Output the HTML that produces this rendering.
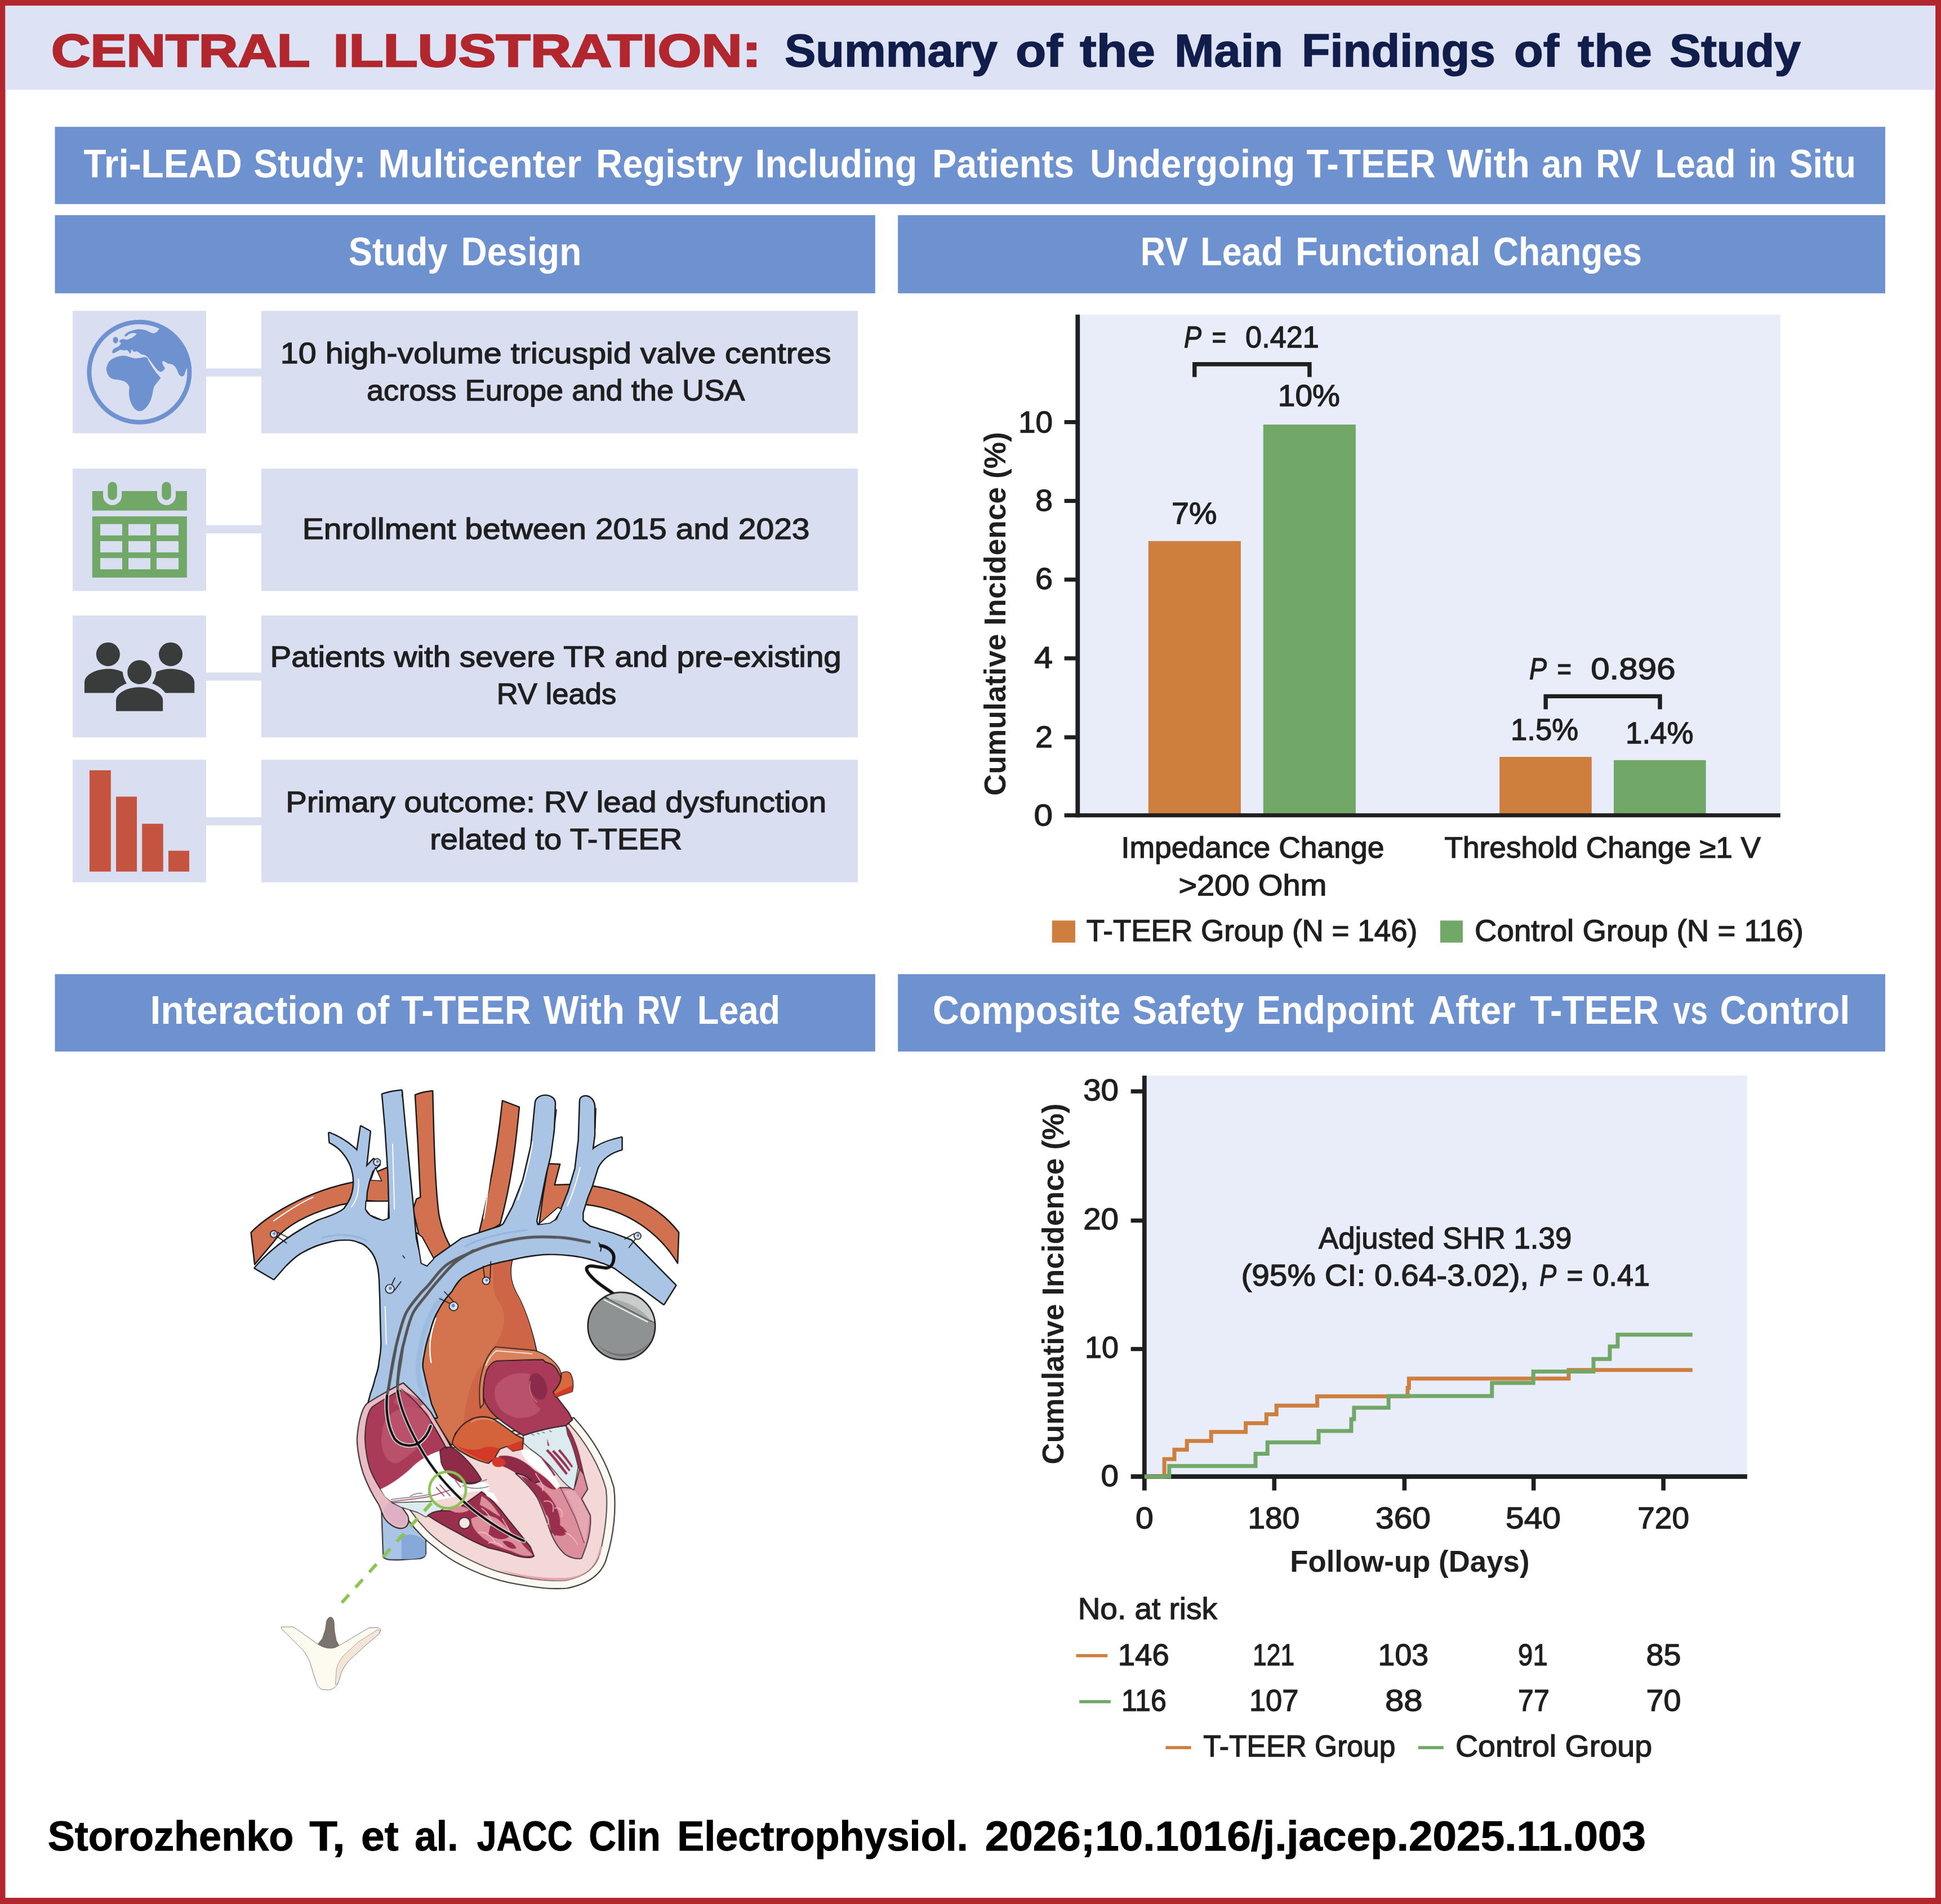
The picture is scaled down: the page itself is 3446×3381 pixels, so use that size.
<!DOCTYPE html>
<html><head><meta charset="utf-8"><title>Central Illustration</title>
<style>
html,body{margin:0;padding:0;background:#fff;}
body{width:3446px;height:3381px;overflow:hidden;}
svg{display:block;}
text{font-family:"Liberation Sans",sans-serif;white-space:pre;}
</style></head><body>
<svg width="3446" height="3381" viewBox="0 0 3446 3381">
<rect x="0.0" y="0.0" width="3446.0" height="3381.0" fill="#B2272D" />
<rect x="9.5" y="10.0" width="3426.5" height="3360.0" fill="#FFFFFF" />
<rect x="9.5" y="10.0" width="3425.5" height="149.5" fill="#DDE2F4" />
<text x="91.0" y="117.7" textLength="459.5" lengthAdjust="spacingAndGlyphs" font-size="81" font-weight="bold" font-style="normal" fill="#B2272D" text-anchor="start"  stroke="#B2272D" stroke-width="2.5">CENTRAL</text>
<text x="591.6" y="117.7" textLength="759.4" lengthAdjust="spacingAndGlyphs" font-size="81" font-weight="bold" font-style="normal" fill="#B2272D" text-anchor="start"  stroke="#B2272D" stroke-width="2.5">ILLUSTRATION:</text>
<text x="1393.0" y="117.7" textLength="378.0" lengthAdjust="spacingAndGlyphs" font-size="82" font-weight="bold" font-style="normal" fill="#111E4B" text-anchor="start"  stroke="#111E4B" stroke-width="1.5">Summary</text>
<text x="1803.0" y="117.7" textLength="84.0" lengthAdjust="spacingAndGlyphs" font-size="82" font-weight="bold" font-style="normal" fill="#111E4B" text-anchor="start"  stroke="#111E4B" stroke-width="1.5">of</text>
<text x="1917.0" y="117.7" textLength="134.0" lengthAdjust="spacingAndGlyphs" font-size="82" font-weight="bold" font-style="normal" fill="#111E4B" text-anchor="start"  stroke="#111E4B" stroke-width="1.5">the</text>
<text x="2085.0" y="117.7" textLength="193.0" lengthAdjust="spacingAndGlyphs" font-size="82" font-weight="bold" font-style="normal" fill="#111E4B" text-anchor="start"  stroke="#111E4B" stroke-width="1.5">Main</text>
<text x="2311.0" y="117.7" textLength="344.0" lengthAdjust="spacingAndGlyphs" font-size="82" font-weight="bold" font-style="normal" fill="#111E4B" text-anchor="start"  stroke="#111E4B" stroke-width="1.5">Findings</text>
<text x="2688.0" y="117.7" textLength="80.0" lengthAdjust="spacingAndGlyphs" font-size="82" font-weight="bold" font-style="normal" fill="#111E4B" text-anchor="start"  stroke="#111E4B" stroke-width="1.5">of</text>
<text x="2801.0" y="117.7" textLength="132.0" lengthAdjust="spacingAndGlyphs" font-size="82" font-weight="bold" font-style="normal" fill="#111E4B" text-anchor="start"  stroke="#111E4B" stroke-width="1.5">the</text>
<text x="2964.0" y="117.7" textLength="233.0" lengthAdjust="spacingAndGlyphs" font-size="82" font-weight="bold" font-style="normal" fill="#111E4B" text-anchor="start"  stroke="#111E4B" stroke-width="1.5">Study</text>
<rect x="97.5" y="225.2" width="3249.5" height="137.2" fill="#6E91CF" />
<rect x="97.5" y="382.1" width="1456.3" height="138.7" fill="#6E91CF" />
<rect x="1594.1" y="382.1" width="1752.9" height="138.7" fill="#6E91CF" />
<rect x="97.5" y="1729.8" width="1456.3" height="137.5" fill="#6E91CF" />
<rect x="1594.1" y="1729.8" width="1752.9" height="137.5" fill="#6E91CF" />
<text x="148.2" y="315.0" textLength="281.6" lengthAdjust="spacingAndGlyphs" font-size="70" font-weight="bold" font-style="normal" fill="#fff" text-anchor="start"  >Tri-LEAD</text>
<text x="450.2" y="315.0" textLength="199.5" lengthAdjust="spacingAndGlyphs" font-size="70" font-weight="bold" font-style="normal" fill="#fff" text-anchor="start"  >Study:</text>
<text x="671.3" y="315.0" textLength="361.0" lengthAdjust="spacingAndGlyphs" font-size="70" font-weight="bold" font-style="normal" fill="#fff" text-anchor="start"  >Multicenter</text>
<text x="1058.1" y="315.0" textLength="260.7" lengthAdjust="spacingAndGlyphs" font-size="70" font-weight="bold" font-style="normal" fill="#fff" text-anchor="start"  >Registry</text>
<text x="1340.4" y="315.0" textLength="287.9" lengthAdjust="spacingAndGlyphs" font-size="70" font-weight="bold" font-style="normal" fill="#fff" text-anchor="start"  >Including</text>
<text x="1654.9" y="315.0" textLength="252.2" lengthAdjust="spacingAndGlyphs" font-size="70" font-weight="bold" font-style="normal" fill="#fff" text-anchor="start"  >Patients</text>
<text x="1935.1" y="315.0" textLength="364.4" lengthAdjust="spacingAndGlyphs" font-size="70" font-weight="bold" font-style="normal" fill="#fff" text-anchor="start"  >Undergoing</text>
<text x="2319.4" y="315.0" textLength="229.5" lengthAdjust="spacingAndGlyphs" font-size="70" font-weight="bold" font-style="normal" fill="#fff" text-anchor="start"  >T-TEER</text>
<text x="2568.7" y="315.0" textLength="147.4" lengthAdjust="spacingAndGlyphs" font-size="70" font-weight="bold" font-style="normal" fill="#fff" text-anchor="start"  >With</text>
<text x="2737.0" y="315.0" textLength="74.2" lengthAdjust="spacingAndGlyphs" font-size="70" font-weight="bold" font-style="normal" fill="#fff" text-anchor="start"  >an</text>
<text x="2833.5" y="315.0" textLength="80.5" lengthAdjust="spacingAndGlyphs" font-size="70" font-weight="bold" font-style="normal" fill="#fff" text-anchor="start"  >RV</text>
<text x="2938.4" y="315.0" textLength="143.1" lengthAdjust="spacingAndGlyphs" font-size="70" font-weight="bold" font-style="normal" fill="#fff" text-anchor="start"  >Lead</text>
<text x="3104.6" y="315.0" textLength="49.1" lengthAdjust="spacingAndGlyphs" font-size="70" font-weight="bold" font-style="normal" fill="#fff" text-anchor="start"  >in</text>
<text x="3176.8" y="315.0" textLength="118.2" lengthAdjust="spacingAndGlyphs" font-size="70" font-weight="bold" font-style="normal" fill="#fff" text-anchor="start"  >Situ</text>
<text x="618.7" y="470.5" textLength="175.8" lengthAdjust="spacingAndGlyphs" font-size="70" font-weight="bold" font-style="normal" fill="#fff" text-anchor="start"  >Study</text>
<text x="818.5" y="470.5" textLength="213.9" lengthAdjust="spacingAndGlyphs" font-size="70" font-weight="bold" font-style="normal" fill="#fff" text-anchor="start"  >Design</text>
<text x="2024.8" y="470.5" textLength="84.4" lengthAdjust="spacingAndGlyphs" font-size="70" font-weight="bold" font-style="normal" fill="#fff" text-anchor="start"  >RV</text>
<text x="2131.3" y="470.5" textLength="146.5" lengthAdjust="spacingAndGlyphs" font-size="70" font-weight="bold" font-style="normal" fill="#fff" text-anchor="start"  >Lead</text>
<text x="2300.0" y="470.5" textLength="328.5" lengthAdjust="spacingAndGlyphs" font-size="70" font-weight="bold" font-style="normal" fill="#fff" text-anchor="start"  >Functional</text>
<text x="2650.7" y="470.5" textLength="264.5" lengthAdjust="spacingAndGlyphs" font-size="70" font-weight="bold" font-style="normal" fill="#fff" text-anchor="start"  >Changes</text>
<text x="266.5" y="1817.6" textLength="345.1" lengthAdjust="spacingAndGlyphs" font-size="70" font-weight="bold" font-style="normal" fill="#fff" text-anchor="start"  >Interaction</text>
<text x="631.8" y="1817.6" textLength="59.5" lengthAdjust="spacingAndGlyphs" font-size="70" font-weight="bold" font-style="normal" fill="#fff" text-anchor="start"  >of</text>
<text x="712.3" y="1817.6" textLength="230.4" lengthAdjust="spacingAndGlyphs" font-size="70" font-weight="bold" font-style="normal" fill="#fff" text-anchor="start"  >T-TEER</text>
<text x="964.6" y="1817.6" textLength="144.5" lengthAdjust="spacingAndGlyphs" font-size="70" font-weight="bold" font-style="normal" fill="#fff" text-anchor="start"  >With</text>
<text x="1131.0" y="1817.6" textLength="78.8" lengthAdjust="spacingAndGlyphs" font-size="70" font-weight="bold" font-style="normal" fill="#fff" text-anchor="start"  >RV</text>
<text x="1237.8" y="1817.6" textLength="147.2" lengthAdjust="spacingAndGlyphs" font-size="70" font-weight="bold" font-style="normal" fill="#fff" text-anchor="start"  >Lead</text>
<text x="1655.9" y="1817.6" textLength="333.6" lengthAdjust="spacingAndGlyphs" font-size="70" font-weight="bold" font-style="normal" fill="#fff" text-anchor="start"  >Composite</text>
<text x="2010.2" y="1817.6" textLength="198.4" lengthAdjust="spacingAndGlyphs" font-size="70" font-weight="bold" font-style="normal" fill="#fff" text-anchor="start"  >Safety</text>
<text x="2231.1" y="1817.6" textLength="279.5" lengthAdjust="spacingAndGlyphs" font-size="70" font-weight="bold" font-style="normal" fill="#fff" text-anchor="start"  >Endpoint</text>
<text x="2535.9" y="1817.6" textLength="155.1" lengthAdjust="spacingAndGlyphs" font-size="70" font-weight="bold" font-style="normal" fill="#fff" text-anchor="start"  >After</text>
<text x="2716.2" y="1817.6" textLength="229.0" lengthAdjust="spacingAndGlyphs" font-size="70" font-weight="bold" font-style="normal" fill="#fff" text-anchor="start"  >T-TEER</text>
<text x="2970.5" y="1817.6" textLength="61.3" lengthAdjust="spacingAndGlyphs" font-size="70" font-weight="bold" font-style="normal" fill="#fff" text-anchor="start"  >vs</text>
<text x="3053.4" y="1817.6" textLength="230.8" lengthAdjust="spacingAndGlyphs" font-size="70" font-weight="bold" font-style="normal" fill="#fff" text-anchor="start"  >Control</text>
<rect x="128.9" y="552.0" width="237.1" height="217.4" fill="#D9DFF1" />
<rect x="463.9" y="552.0" width="1059.0" height="217.4" fill="#D9DFF1" />
<rect x="365.0" y="654.2" width="100.0" height="14.4" fill="#D9DFF1" />
<rect x="128.9" y="832.1" width="237.1" height="217.3" fill="#D9DFF1" />
<rect x="463.9" y="832.1" width="1059.0" height="217.3" fill="#D9DFF1" />
<rect x="365.0" y="932.6" width="100.0" height="14.4" fill="#D9DFF1" />
<rect x="128.9" y="1093.0" width="237.1" height="216.3" fill="#D9DFF1" />
<rect x="463.9" y="1093.0" width="1059.0" height="216.3" fill="#D9DFF1" />
<rect x="365.0" y="1194.2" width="100.0" height="14.4" fill="#D9DFF1" />
<rect x="128.9" y="1349.1" width="237.1" height="217.7" fill="#D9DFF1" />
<rect x="463.9" y="1349.1" width="1059.0" height="217.7" fill="#D9DFF1" />
<rect x="365.0" y="1451.2" width="100.0" height="14.4" fill="#D9DFF1" />
<text x="497.8" y="644.6" textLength="977.7" lengthAdjust="spacingAndGlyphs" font-size="52" font-weight="normal" font-style="normal" fill="#1F1F1F" text-anchor="start" stroke="#1F1F1F" stroke-width="1.3" >10 high-volume tricuspid valve centres</text>
<text x="650.9" y="711.3" textLength="671.6" lengthAdjust="spacingAndGlyphs" font-size="52" font-weight="normal" font-style="normal" fill="#1F1F1F" text-anchor="start" stroke="#1F1F1F" stroke-width="1.3" >across Europe and the USA</text>
<text x="536.8" y="957.2" textLength="900.8" lengthAdjust="spacingAndGlyphs" font-size="52" font-weight="normal" font-style="normal" fill="#1F1F1F" text-anchor="start" stroke="#1F1F1F" stroke-width="1.3" >Enrollment between 2015 and 2023</text>
<text x="479.5" y="1183.5" textLength="1014.3" lengthAdjust="spacingAndGlyphs" font-size="52" font-weight="normal" font-style="normal" fill="#1F1F1F" text-anchor="start" stroke="#1F1F1F" stroke-width="1.3" >Patients with severe TR and pre-existing</text>
<text x="881.8" y="1250.2" textLength="212.5" lengthAdjust="spacingAndGlyphs" font-size="52" font-weight="normal" font-style="normal" fill="#1F1F1F" text-anchor="start" stroke="#1F1F1F" stroke-width="1.3" >RV leads</text>
<text x="507.3" y="1441.7" textLength="959.8" lengthAdjust="spacingAndGlyphs" font-size="52" font-weight="normal" font-style="normal" fill="#1F1F1F" text-anchor="start" stroke="#1F1F1F" stroke-width="1.3" >Primary outcome: RV lead dysfunction</text>
<text x="763.2" y="1508.4" textLength="448.0" lengthAdjust="spacingAndGlyphs" font-size="52" font-weight="normal" font-style="normal" fill="#1F1F1F" text-anchor="start" stroke="#1F1F1F" stroke-width="1.3" >related to T-TEER</text>
<!-- globe -->
<g>
<circle cx="247.4" cy="660.7" r="89" fill="none" stroke="#6E91CF" stroke-width="8"/>
<clipPath id="gclip"><circle cx="247.4" cy="660.7" r="87"/></clipPath>
<g clip-path="url(#gclip)"><g transform="translate(100 530) scale(0.28881)" fill="#6E91CF">
<path d="M318,398 C330,374 362,358 402,352 C432,348 452,364 482,368 C512,372 540,352 560,366 C568,388 585,414 600,436 C612,454 626,470 642,488 C626,512 606,528 598,550 C592,582 588,616 570,646 C556,670 536,692 512,693 C490,693 470,670 458,640 C448,612 442,580 450,546 C440,520 420,508 396,503 C370,498 346,500 330,486 C314,470 304,440 308,424 Z"/>
<path d="M345,338 C340,318 352,306 372,300 C384,296 392,286 398,274 C384,268 384,256 404,250 C418,246 426,256 440,252 C458,246 478,236 494,218 C478,206 452,214 438,226 C430,236 418,236 420,226 C430,208 462,196 500,190 C536,186 560,200 586,212 C606,218 624,208 628,190 C700,160 820,250 830,330 L812,418 C800,428 794,444 790,462 C786,478 772,482 762,476 C752,468 748,450 738,432 C730,416 716,404 696,402 C680,400 668,386 656,384 C646,392 654,408 666,424 C672,436 652,450 640,452 C626,446 610,428 598,410 C588,396 578,384 566,366 C556,352 540,346 524,344 C512,336 500,322 486,326 C478,334 470,322 462,312 C458,326 462,340 452,338 C444,326 438,314 426,318 C414,324 400,312 388,318 C374,326 360,336 345,338 Z"/>
<ellipse cx="364" cy="256" rx="16" ry="20"/>
</g></g>
</g>
<!-- calendar -->
<g fill="#72A867">
<rect x="163.8" y="872" width="168.1" height="34.6"/>
<rect x="163.8" y="917" width="168.1" height="108.6"/>
<g fill="#D9DFF1">
<path d="M183.1,868 V880.4 a16.5,16.5 0 0 0 33,0 V868 Z"/>
<path d="M279,868 V880.4 a16.5,16.5 0 0 0 33,0 V868 Z"/>
<rect x="178" y="930.6" width="39" height="20.2"/><rect x="228" y="930.6" width="39" height="20.2"/><rect x="278" y="930.6" width="39" height="20.2"/>
<rect x="178" y="960.9" width="39" height="20"/><rect x="228" y="960.9" width="39" height="20"/><rect x="278" y="960.9" width="39" height="20"/>
<rect x="178" y="990.9" width="39" height="20"/><rect x="228" y="990.9" width="39" height="20"/><rect x="278" y="990.9" width="39" height="20"/>
</g>
<rect x="191.4" y="855.8" width="16.4" height="32.2" rx="8.2"/>
<rect x="287.3" y="855.8" width="16.4" height="32.2" rx="8.2"/>
</g>
<!-- people -->
<g transform="translate(100 1070) scale(0.28881)" fill="#3A3C3B">
<circle cx="318" cy="318" r="73"/><circle cx="703" cy="318" r="73"/>
<path d="M173,556 V492 C173,440 250,408 318,408 C350,408 385,415 408,427 C410,452 420,480 433,497 C400,510 370,530 352,556 Z"/>
<path d="M849,556 V492 C849,440 772,408 704,408 C672,408 637,415 614,427 C612,452 602,480 589,497 C622,510 652,530 670,556 Z"/>
<circle cx="511" cy="428" r="74"/>
<path d="M367,667 V602 C367,560 430,520 511,520 C592,520 655,560 655,602 V667 Z"/>
</g>
<!-- bars -->
<g fill="#C4543F">
<rect x="158.9" y="1367.8" width="37.9" height="179.9"/>
<rect x="206" y="1414.6" width="37" height="133.1"/>
<rect x="252.2" y="1462.8" width="37.5" height="84.9"/>
<rect x="299" y="1510.7" width="37" height="37"/>
</g>

<rect x="1913.0" y="558.7" width="1247.8" height="889.3" fill="#E9EDF9" />
<rect x="2038.8" y="960.8" width="164.1" height="485.2" fill="#CE7F3E" />
<rect x="2242.8" y="753.9" width="164.1" height="692.1" fill="#72A867" />
<rect x="2662.2" y="1344.0" width="163.6" height="102.0" fill="#CE7F3E" />
<rect x="2865.0" y="1349.8" width="163.6" height="96.2" fill="#72A867" />
<rect x="1909.4" y="558.7" width="7.8" height="892.7" fill="#1F1F1F" />
<rect x="1889.6" y="1444.2" width="1271.2" height="7.2" fill="#1F1F1F" />
<rect x="1889.6" y="746.0" width="21.4" height="7.2" fill="#1F1F1F" />
<rect x="1889.6" y="885.9" width="21.4" height="7.2" fill="#1F1F1F" />
<rect x="1889.6" y="1025.6" width="21.4" height="7.2" fill="#1F1F1F" />
<rect x="1889.6" y="1165.4" width="21.4" height="7.2" fill="#1F1F1F" />
<rect x="1889.6" y="1305.6" width="21.4" height="7.2" fill="#1F1F1F" />
<text x="1808.0" y="767.6" textLength="61.0" lengthAdjust="spacingAndGlyphs" font-size="53" font-weight="normal" font-style="normal" fill="#1F1F1F" text-anchor="start" stroke="#1F1F1F" stroke-width="1.3" >10</text>
<text x="1838.0" y="906.5" textLength="31.0" lengthAdjust="spacingAndGlyphs" font-size="53" font-weight="normal" font-style="normal" fill="#1F1F1F" text-anchor="start" stroke="#1F1F1F" stroke-width="1.3" >8</text>
<text x="1838.0" y="1046.4" textLength="31.0" lengthAdjust="spacingAndGlyphs" font-size="53" font-weight="normal" font-style="normal" fill="#1F1F1F" text-anchor="start" stroke="#1F1F1F" stroke-width="1.3" >6</text>
<text x="1836.0" y="1186.3" textLength="33.0" lengthAdjust="spacingAndGlyphs" font-size="53" font-weight="normal" font-style="normal" fill="#1F1F1F" text-anchor="start" stroke="#1F1F1F" stroke-width="1.3" >4</text>
<text x="1838.0" y="1326.5" textLength="31.0" lengthAdjust="spacingAndGlyphs" font-size="53" font-weight="normal" font-style="normal" fill="#1F1F1F" text-anchor="start" stroke="#1F1F1F" stroke-width="1.3" >2</text>
<text x="1835.5" y="1466.0" textLength="33.5" lengthAdjust="spacingAndGlyphs" font-size="53" font-weight="normal" font-style="normal" fill="#1F1F1F" text-anchor="start" stroke="#1F1F1F" stroke-width="1.3" >0</text>
<text x="2101.9" y="616.7"  font-size="53" font-weight="normal" font-style="italic" fill="#1F1F1F" text-anchor="start" stroke="#1F1F1F" stroke-width="1.3" textLength="31" lengthAdjust="spacingAndGlyphs">P</text>
<text x="2151.4" y="616.7" textLength="25.5" lengthAdjust="spacingAndGlyphs" font-size="53" font-weight="normal" font-style="normal" fill="#1F1F1F" text-anchor="start" stroke="#1F1F1F" stroke-width="1.3" >=</text>
<text x="2211.1" y="616.7" textLength="130.7" lengthAdjust="spacingAndGlyphs" font-size="53" font-weight="normal" font-style="normal" fill="#1F1F1F" text-anchor="start" stroke="#1F1F1F" stroke-width="1.3" >0.421</text>
<text x="2715.0" y="1206.3"  font-size="53" font-weight="normal" font-style="italic" fill="#1F1F1F" text-anchor="start" stroke="#1F1F1F" stroke-width="1.3" textLength="31" lengthAdjust="spacingAndGlyphs">P</text>
<text x="2764.5" y="1206.3" textLength="25.5" lengthAdjust="spacingAndGlyphs" font-size="53" font-weight="normal" font-style="normal" fill="#1F1F1F" text-anchor="start" stroke="#1F1F1F" stroke-width="1.3" >=</text>
<text x="2824.2" y="1206.3" textLength="150.4" lengthAdjust="spacingAndGlyphs" font-size="53" font-weight="normal" font-style="normal" fill="#1F1F1F" text-anchor="start" stroke="#1F1F1F" stroke-width="1.3" >0.896</text>
<path d="M2120.8 669.4V646.7H2324.9V669.4" fill="none" stroke="#1F1F1F" stroke-width="7.4"/>
<path d="M2744.2 1259.5V1236.4H2947.0V1259.5" fill="none" stroke="#1F1F1F" stroke-width="7.4"/>
<text x="2268.8" y="721.4" textLength="110.1" lengthAdjust="spacingAndGlyphs" font-size="53" font-weight="normal" font-style="normal" fill="#1F1F1F" text-anchor="start" stroke="#1F1F1F" stroke-width="1.3" >10%</text>
<text x="2080.0" y="929.5" textLength="80.4" lengthAdjust="spacingAndGlyphs" font-size="53" font-weight="normal" font-style="normal" fill="#1F1F1F" text-anchor="start" stroke="#1F1F1F" stroke-width="1.3" >7%</text>
<text x="2682.0" y="1313.5" textLength="120.3" lengthAdjust="spacingAndGlyphs" font-size="53" font-weight="normal" font-style="normal" fill="#1F1F1F" text-anchor="start" stroke="#1F1F1F" stroke-width="1.3" >1.5%</text>
<text x="2886.0" y="1319.7" textLength="120.4" lengthAdjust="spacingAndGlyphs" font-size="53" font-weight="normal" font-style="normal" fill="#1F1F1F" text-anchor="start" stroke="#1F1F1F" stroke-width="1.3" >1.4%</text>
<text x="1990.6" y="1522.6" textLength="467.0" lengthAdjust="spacingAndGlyphs" font-size="51" font-weight="normal" font-style="normal" fill="#1F1F1F" text-anchor="start" stroke="#1F1F1F" stroke-width="1.3" >Impedance Change</text>
<text x="2092.4" y="1590.3" textLength="263.0" lengthAdjust="spacingAndGlyphs" font-size="51" font-weight="normal" font-style="normal" fill="#1F1F1F" text-anchor="start" stroke="#1F1F1F" stroke-width="1.3" >&gt;200 Ohm</text>
<text x="2564.5" y="1522.6" textLength="561.5" lengthAdjust="spacingAndGlyphs" font-size="51" font-weight="normal" font-style="normal" fill="#1F1F1F" text-anchor="start" stroke="#1F1F1F" stroke-width="1.3" >Threshold Change ≥1 V</text>
<rect x="1867.8" y="1634.6" width="41.2" height="39.2" fill="#CE7F3E" />
<rect x="2557.0" y="1634.6" width="40.0" height="39.2" fill="#72A867" />
<text x="1928.8" y="1671.2" textLength="587.5" lengthAdjust="spacingAndGlyphs" font-size="53" font-weight="normal" font-style="normal" fill="#1F1F1F" text-anchor="start" stroke="#1F1F1F" stroke-width="1.3" >T-TEER Group (N = 146)</text>
<text x="2618.0" y="1671.2" textLength="584.0" lengthAdjust="spacingAndGlyphs" font-size="53" font-weight="normal" font-style="normal" fill="#1F1F1F" text-anchor="start" stroke="#1F1F1F" stroke-width="1.3" >Control Group (N = 116)</text>
<text transform="translate(1784.5 1413) rotate(-90)" textLength="646" lengthAdjust="spacingAndGlyphs" font-size="53" font-weight="bold" fill="#1F1F1F">Cumulative Incidence (%)</text>
<rect x="2032.0" y="1910.0" width="1069.9" height="714.0" fill="#E9EDF9" />
<rect x="2028.0" y="1910.0" width="7.7" height="736.7" fill="#1F1F1F" />
<rect x="2007.7" y="2617.9" width="1094.2" height="8.2" fill="#1F1F1F" />
<rect x="2007.7" y="1934.3" width="22.3" height="7.4" fill="#1F1F1F" />
<rect x="2007.7" y="2163.7" width="22.3" height="7.4" fill="#1F1F1F" />
<rect x="2007.7" y="2391.8" width="22.3" height="7.4" fill="#1F1F1F" />
<rect x="2258.5" y="2620.0" width="7.6" height="26.7" fill="#1F1F1F" />
<rect x="2489.6" y="2620.0" width="7.6" height="26.7" fill="#1F1F1F" />
<rect x="2718.9" y="2620.0" width="7.6" height="26.7" fill="#1F1F1F" />
<rect x="2949.3" y="2620.0" width="7.6" height="26.7" fill="#1F1F1F" />
<text x="1923.2" y="1953.6" textLength="62.8" lengthAdjust="spacingAndGlyphs" font-size="53" font-weight="normal" font-style="normal" fill="#1F1F1F" text-anchor="start" stroke="#1F1F1F" stroke-width="1.3" >30</text>
<text x="1923.2" y="2183.0" textLength="62.8" lengthAdjust="spacingAndGlyphs" font-size="53" font-weight="normal" font-style="normal" fill="#1F1F1F" text-anchor="start" stroke="#1F1F1F" stroke-width="1.3" >20</text>
<text x="1926.0" y="2411.4" textLength="60.0" lengthAdjust="spacingAndGlyphs" font-size="53" font-weight="normal" font-style="normal" fill="#1F1F1F" text-anchor="start" stroke="#1F1F1F" stroke-width="1.3" >10</text>
<text x="1954.6" y="2638.5" textLength="31.4" lengthAdjust="spacingAndGlyphs" font-size="53" font-weight="normal" font-style="normal" fill="#1F1F1F" text-anchor="start" stroke="#1F1F1F" stroke-width="1.3" >0</text>
<text x="2016.0" y="2714.0" textLength="31.8" lengthAdjust="spacingAndGlyphs" font-size="53" font-weight="normal" font-style="normal" fill="#1F1F1F" text-anchor="start" stroke="#1F1F1F" stroke-width="1.3" >0</text>
<text x="2215.5" y="2714.0" textLength="91.7" lengthAdjust="spacingAndGlyphs" font-size="53" font-weight="normal" font-style="normal" fill="#1F1F1F" text-anchor="start" stroke="#1F1F1F" stroke-width="1.3" >180</text>
<text x="2442.0" y="2714.0" textLength="98.0" lengthAdjust="spacingAndGlyphs" font-size="53" font-weight="normal" font-style="normal" fill="#1F1F1F" text-anchor="start" stroke="#1F1F1F" stroke-width="1.3" >360</text>
<text x="2673.0" y="2714.0" textLength="98.0" lengthAdjust="spacingAndGlyphs" font-size="53" font-weight="normal" font-style="normal" fill="#1F1F1F" text-anchor="start" stroke="#1F1F1F" stroke-width="1.3" >540</text>
<text x="2907.2" y="2714.0" textLength="91.8" lengthAdjust="spacingAndGlyphs" font-size="53" font-weight="normal" font-style="normal" fill="#1F1F1F" text-anchor="start" stroke="#1F1F1F" stroke-width="1.3" >720</text>
<text transform="translate(1888 2600.5) rotate(-90)" textLength="641" lengthAdjust="spacingAndGlyphs" font-size="53" font-weight="bold" fill="#1F1F1F">Cumulative Incidence (%)</text>
<text x="2290.2" y="2791.0" textLength="425.3" lengthAdjust="spacingAndGlyphs" font-size="53" font-weight="bold" font-style="normal" fill="#1F1F1F" text-anchor="start"  >Follow-up (Days)</text>
<text x="2341.0" y="2216.7" textLength="449.3" lengthAdjust="spacingAndGlyphs" font-size="53" font-weight="normal" font-style="normal" fill="#1F1F1F" text-anchor="start" stroke="#1F1F1F" stroke-width="1.3" >Adjusted SHR 1.39</text>
<text x="2203.4" y="2283.4" textLength="511.0" lengthAdjust="spacingAndGlyphs" font-size="53" font-weight="normal" font-style="normal" fill="#1F1F1F" text-anchor="start" stroke="#1F1F1F" stroke-width="1.3" >(95% CI: 0.64-3.02),</text>
<text x="2733.3" y="2283.4"  font-size="53" font-weight="normal" font-style="italic" fill="#1F1F1F" text-anchor="start" stroke="#1F1F1F" stroke-width="1.3" textLength="30" lengthAdjust="spacingAndGlyphs">P</text>
<text x="2781.6" y="2283.4" textLength="29.0" lengthAdjust="spacingAndGlyphs" font-size="53" font-weight="normal" font-style="normal" fill="#1F1F1F" text-anchor="start" stroke="#1F1F1F" stroke-width="1.3" >=</text>
<text x="2827.5" y="2283.4" textLength="101.5" lengthAdjust="spacingAndGlyphs" font-size="53" font-weight="normal" font-style="normal" fill="#1F1F1F" text-anchor="start" stroke="#1F1F1F" stroke-width="1.3" >0.41</text>
<path d="M2031.9 2622.0 L2067.1 2622.0 L2067.1 2591.1 L2085.0 2591.1 L2085.0 2574.2 L2107.2 2574.2 L2107.2 2558.7 L2150.2 2558.7 L2150.2 2542.8 L2211.6 2542.8 L2211.6 2527.3 L2248.3 2527.3 L2248.3 2511.4 L2266.2 2511.4 L2266.2 2495.9 L2338.6 2495.9 L2338.6 2479.5 L2499.0 2479.5 L2499.0 2464.5 L2501.4 2464.5 L2501.4 2448.1 L2785.0 2448.1 L2785.0 2432.7 L3004.8 2432.7" fill="none" stroke="#CE7F3E" stroke-width="7" stroke-linejoin="miter"/>
<path d="M2031.9 2622.0 L2075.8 2622.0 L2075.8 2603.2 L2229.0 2603.2 L2229.0 2581.4 L2250.2 2581.4 L2250.2 2561.2 L2341.0 2561.2 L2341.0 2540.9 L2399.0 2540.9 L2399.0 2520.1 L2403.9 2520.1 L2403.9 2499.8 L2465.2 2499.8 L2465.2 2479.0 L2648.8 2479.0 L2648.8 2455.8 L2722.2 2455.8 L2722.2 2435.6 L2829.0 2435.6 L2829.0 2413.3 L2858.0 2413.3 L2858.0 2391.1 L2872.0 2391.1 L2872.0 2369.9 L3004.8 2369.9" fill="none" stroke="#72A867" stroke-width="7" stroke-linejoin="miter"/>
<text x="1913.7" y="2874.6" textLength="247.3" lengthAdjust="spacingAndGlyphs" font-size="53" font-weight="normal" font-style="normal" fill="#1F1F1F" text-anchor="start" stroke="#1F1F1F" stroke-width="1.3" >No. at risk</text>
<rect x="1910.6" y="2937.2" width="55.6" height="5.6" fill="#CE7F3E" />
<rect x="1916.2" y="3018.9" width="55.6" height="5.6" fill="#72A867" />
<text x="1984.8" y="2956.8" textLength="90.9" lengthAdjust="spacingAndGlyphs" font-size="53" font-weight="normal" font-style="normal" fill="#1F1F1F" text-anchor="start" stroke="#1F1F1F" stroke-width="1.3" >146</text>
<text x="2224.0" y="2956.8" textLength="74.2" lengthAdjust="spacingAndGlyphs" font-size="53" font-weight="normal" font-style="normal" fill="#1F1F1F" text-anchor="start" stroke="#1F1F1F" stroke-width="1.3" >121</text>
<text x="2446.6" y="2956.8" textLength="89.6" lengthAdjust="spacingAndGlyphs" font-size="53" font-weight="normal" font-style="normal" fill="#1F1F1F" text-anchor="start" stroke="#1F1F1F" stroke-width="1.3" >103</text>
<text x="2695.1" y="2956.8" textLength="52.6" lengthAdjust="spacingAndGlyphs" font-size="53" font-weight="normal" font-style="normal" fill="#1F1F1F" text-anchor="start" stroke="#1F1F1F" stroke-width="1.3" >91</text>
<text x="2922.6" y="2956.8" textLength="61.9" lengthAdjust="spacingAndGlyphs" font-size="53" font-weight="normal" font-style="normal" fill="#1F1F1F" text-anchor="start" stroke="#1F1F1F" stroke-width="1.3" >85</text>
<text x="1991.0" y="3038.4" textLength="79.7" lengthAdjust="spacingAndGlyphs" font-size="53" font-weight="normal" font-style="normal" fill="#1F1F1F" text-anchor="start" stroke="#1F1F1F" stroke-width="1.3" >116</text>
<text x="2217.9" y="3038.4" textLength="87.7" lengthAdjust="spacingAndGlyphs" font-size="53" font-weight="normal" font-style="normal" fill="#1F1F1F" text-anchor="start" stroke="#1F1F1F" stroke-width="1.3" >107</text>
<text x="2459.0" y="3038.4" textLength="66.7" lengthAdjust="spacingAndGlyphs" font-size="53" font-weight="normal" font-style="normal" fill="#1F1F1F" text-anchor="start" stroke="#1F1F1F" stroke-width="1.3" >88</text>
<text x="2695.1" y="3038.4" textLength="55.7" lengthAdjust="spacingAndGlyphs" font-size="53" font-weight="normal" font-style="normal" fill="#1F1F1F" text-anchor="start" stroke="#1F1F1F" stroke-width="1.3" >77</text>
<text x="2922.6" y="3038.4" textLength="61.9" lengthAdjust="spacingAndGlyphs" font-size="53" font-weight="normal" font-style="normal" fill="#1F1F1F" text-anchor="start" stroke="#1F1F1F" stroke-width="1.3" >70</text>
<rect x="2069.5" y="3100.5" width="45.1" height="5.6" fill="#CE7F3E" />
<rect x="2517.7" y="3100.5" width="45.1" height="5.6" fill="#72A867" />
<text x="2136.2" y="3118.8" textLength="341.3" lengthAdjust="spacingAndGlyphs" font-size="53" font-weight="normal" font-style="normal" fill="#1F1F1F" text-anchor="start" stroke="#1F1F1F" stroke-width="1.3" >T-TEER Group</text>
<text x="2583.9" y="3118.8" textLength="349.3" lengthAdjust="spacingAndGlyphs" font-size="53" font-weight="normal" font-style="normal" fill="#1F1F1F" text-anchor="start" stroke="#1F1F1F" stroke-width="1.3" >Control Group</text>
<text x="84.7" y="3286.0" textLength="436.7" lengthAdjust="spacingAndGlyphs" font-size="74" font-weight="bold" font-style="normal" fill="#000" text-anchor="start"  stroke="#000" stroke-width="1">Storozhenko</text>
<text x="549.2" y="3286.0" textLength="63.4" lengthAdjust="spacingAndGlyphs" font-size="74" font-weight="bold" font-style="normal" fill="#000" text-anchor="start"  stroke="#000" stroke-width="1">T,</text>
<text x="641.0" y="3286.0" textLength="66.6" lengthAdjust="spacingAndGlyphs" font-size="74" font-weight="bold" font-style="normal" fill="#000" text-anchor="start"  stroke="#000" stroke-width="1">et</text>
<text x="736.2" y="3286.0" textLength="77.3" lengthAdjust="spacingAndGlyphs" font-size="74" font-weight="bold" font-style="normal" fill="#000" text-anchor="start"  stroke="#000" stroke-width="1">al.</text>
<text x="846.7" y="3286.0" textLength="170.0" lengthAdjust="spacingAndGlyphs" font-size="74" font-weight="bold" font-style="normal" fill="#000" text-anchor="start"  stroke="#000" stroke-width="1">JACC</text>
<text x="1045.3" y="3286.0" textLength="127.5" lengthAdjust="spacingAndGlyphs" font-size="74" font-weight="bold" font-style="normal" fill="#000" text-anchor="start"  stroke="#000" stroke-width="1">Clin</text>
<text x="1202.2" y="3286.0" textLength="516.5" lengthAdjust="spacingAndGlyphs" font-size="74" font-weight="bold" font-style="normal" fill="#000" text-anchor="start"  stroke="#000" stroke-width="1">Electrophysiol.</text>
<text x="1748.8" y="3286.0" textLength="1173.2" lengthAdjust="spacingAndGlyphs" font-size="74" font-weight="bold" font-style="normal" fill="#000" text-anchor="start"  stroke="#000" stroke-width="1">2026;10.1016/j.jacep.2025.11.003</text>
<g transform="translate(420 1900) scale(0.412158)">
<!-- ===== UPPER (H coords: src=(420,1900)+H/2.42625) ===== -->
<g stroke-linejoin="round" stroke-linecap="round">
<!-- arteries behind -->
<g fill="#D2714F" stroke="#1b1b1b" stroke-width="6">
<path d="M62,700 C130,630 300,520 520,480 L600,440 L660,415 L660,570 L560,563 C420,575 230,640 160,740 L78,838 Z"/>
<path d="M769,107 Q805,92 845,90 C850,300 855,500 872,625 C885,690 905,740 945,800 L860,840 L790,730 L760,600 L775,556 L792,548 L780,300 Z"/>
<path d="M1145,132 L1218,160 C1200,350 1180,500 1135,665 L1040,720 C1090,520 1125,330 1145,132 Z"/>
<path d="M1343,404 L1393,406 L1370,495 L1430,493 C1600,490 1800,560 1905,700 L1900,833 C1820,700 1680,600 1503,580 L1300,690 L1320,540 Z"/>
</g>
<!-- artery highlights -->
<path d="M160,650 C230,600 290,565 330,548" fill="none" stroke="#fff" stroke-width="5"/>
<path d="M1112,260 C1100,400 1085,520 1065,640" fill="none" stroke="#fff" stroke-width="5"/>
<!-- aorta -->
<path d="M850,830 L1190,810 C1170,880 1185,930 1220,988 C1250,1050 1275,1130 1292,1208 L1300,1320 L1075,1320 L1063,1363 L1066,1410 L1130,1502 L1010,1512 L943,1565 L929,1625 L820,1470 L790,1300 C800,1200 830,1100 880,1000 Z" fill="#D4744F" stroke="#1b1b1b" stroke-width="5"/>
<path d="M1105,830 L1188,812 C1170,880 1185,930 1220,988 C1250,1050 1275,1130 1290,1208 L1298,1318 L1075,1320 L1063,1363 L1066,1410 L1128,1500 L1010,1510 L975,1540 C985,1450 1000,1350 1050,1280 C1120,1190 1190,1080 1130,1000 C1095,950 1110,900 1105,830 Z" fill="#CF6547"/>
<path d="M858,1070 C835,1130 825,1190 838,1260" fill="none" stroke="#fff" stroke-width="6"/>
<!-- veins: strokes first then fills -->
<defs>
<path id="vMain" d="M80,853 C150,770 250,700 350,650 C400,632 450,618 480,585 L560,640 L640,650 L772,730 L795,833 L820,845 L850,813 L970,728 L1135,675 L1295,667 L1490,650 L1520,675 L1620,705 L1700,735 L1890,928 L1840,1008 L1630,853 C1600,838 1580,830 1570,828 C1500,800 1400,788 1320,793 C1270,797 1240,803 1195,813 C1150,823 1110,830 1070,843 C1030,860 1000,873 970,893 C950,910 938,930 925,953 C900,980 885,1000 870,1028 C850,1060 840,1090 830,1128 C815,1170 810,1200 805,1228 C800,1250 798,1265 800,1285 L812,1338 L837,1440 L862,1497 L700,1497 L560,1470 L580,1393 C590,1370 595,1350 600,1328 C610,1300 615,1280 617,1253 C622,1230 625,1200 625,1178 L622,1078 L620,988 L617,903 C615,870 612,850 605,828 C598,805 590,790 575,773 C560,755 545,745 525,740 C510,733 495,730 475,730 C455,730 440,730 425,733 C400,738 375,745 350,753 C320,763 300,775 275,788 C250,803 230,823 210,843 L160,900 Z"/>
<path id="vIJVr" d="M629,105 Q670,92 710,89 L725,250 L745,450 L760,600 L772,730 L800,850 L640,850 L660,640 L655,450 L642,250 Z"/>
<path id="vY" d="M399,272 C450,292 490,320 520,350 L536,244 L574,265 L565,350 L557,420 L590,385 L615,408 L585,435 L570,480 L560,525 L555,600 C556,625 600,645 630,650 L660,640 L660,700 L420,700 L400,655 C440,635 460,612 470,590 C510,540 515,470 492,410 C470,360 440,330 402,312 Z"/>
<path id="vIJVl" d="M1288,145 C1290,100 1370,100 1370.5,145 L1365.5,260 L1350.5,370 L1330.5,450 L1310.5,550 L1290.5,650 L1295,667 L1300,720 L1100,720 L1135,675 L1150.5,665 L1190.5,590 L1235.5,475 L1270.5,325 Z"/>
<path id="vV5" d="M1480.5,132 C1482,105 1535,105 1540.5,155 L1540.5,280 L1532,345 C1560,320 1600,305 1658,292 L1658,342 C1610,355 1575,380 1555,420 L1530,500 L1510,550 L1490,615 L1490,650 L1520,675 L1520,720 L1300,720 L1295,667 L1350,660 L1380,645 L1400,600 L1430,525 L1460,425 L1475,300 Z"/>
</defs>
<g fill="none" stroke="#1b1b1b" stroke-width="12">
<use href="#vMain"/><use href="#vIJVr"/><use href="#vY"/><use href="#vIJVl"/><use href="#vV5"/>
</g>
<g fill="#A9C4E4" stroke="none">
<use href="#vMain"/><use href="#vIJVr"/><use href="#vY"/><use href="#vIJVl"/><use href="#vV5"/>
</g>
<!-- windows / wedges -->
<path d="M557,565 L655,565 L653,640 L630,648 L575,625 L555,600 Z" fill="#fff" stroke="#1b1b1b" stroke-width="5"/>
<path d="M598,420 L625,478 L578,475 Z" fill="#fff" stroke="#1b1b1b" stroke-width="4"/>
<path d="M774,700 L795,833 L820,845 L850,813 L800,720 Z" fill="#fff" stroke="#1b1b1b" stroke-width="5"/>
<path d="M1298,667 L1385,592 L1400,600 L1372,645 L1350,660 Z" fill="#fff" stroke="#1b1b1b" stroke-width="4"/>
<!-- white gap between subclavian artery & vein, left -->
<path d="M82,850 C150,765 250,695 350,645 C400,625 450,612 478,582" fill="none" stroke="#fff" stroke-width="0"/>
<!-- vein highlights -->
<g fill="none" stroke="#fff" stroke-width="5" opacity="0.9">
<path d="M672,320 L680,600"/>
<path d="M525,470 C528,520 520,560 495,590"/>
<path d="M1275,310 C1262,400 1240,480 1212,560"/>
<path d="M1480,420 C1465,480 1445,540 1425,585"/>
<path d="M640,1020 L645,1180"/>
</g>
<g fill="none" stroke="#8FB2DE" stroke-width="7" opacity="0.9">
<path d="M370,722 C430,705 500,705 560,735"/>
<path d="M985,760 C1060,720 1150,700 1250,690"/>
<path d="M878,985 C828,1050 793,1150 783,1260 C778,1320 790,1370 808,1400" stroke-width="20" opacity="0.6"/>
</g>
<!-- thin decorative lines -->
<g fill="none" stroke="#1b1b1b" stroke-width="4">
<path d="M1378,170 L1365,280"/>
<path d="M1548,165 L1545,250"/>
<path d="M715,95 L712,112"/>
</g>
<!-- grey leads in vein -->
<g fill="none" stroke="#555" stroke-width="12">
<path d="M1520.0,742.0 C1500.0,738.7 1445.0,725.3 1400.0,722.0 C1355.0,718.7 1300.0,717.0 1250.0,722.0 C1200.0,727.0 1141.7,740.7 1100.0,752.0 C1058.3,763.3 1033.3,774.8 1000.0,790.0 C966.7,805.2 929.2,820.0 900.0,843.0 C870.8,866.0 844.0,906.8 825.0,928.0 C806.0,949.2 801.8,950.2 786.0,970.0 C770.2,989.8 744.8,1017.2 730.0,1047.0 C715.2,1076.8 706.3,1115.0 697.0,1149.0 C687.7,1183.0 680.5,1217.8 674.0,1251.0 C667.5,1284.2 661.7,1324.8 658.0,1348.0 C654.3,1371.2 653.0,1383.0 652.0,1390.0"/>
<path d="M1020.0,778.0 C1006.7,786.7 965.0,808.8 940.0,830.0 C915.0,851.2 890.5,881.7 870.0,905.0 C849.5,928.3 835.3,946.3 817.0,970.0 C798.7,993.7 775.0,1017.2 760.0,1047.0 C745.0,1076.8 736.3,1115.0 727.0,1149.0 C717.7,1183.0 709.5,1219.2 704.0,1251.0 C698.5,1282.8 695.7,1318.0 694.0,1340.0 C692.3,1362.0 694.0,1375.8 694.0,1383.0"/>
</g>
<!-- small valves -->
<g stroke="#1b1b1b" stroke-width="4" fill="#D6E4F4">
<circle cx="605" cy="397" r="15"/><circle cx="160" cy="707" r="15"/>
<circle cx="660" cy="943" r="19"/><circle cx="935" cy="1018" r="19"/>
<circle cx="1075" cy="908" r="16"/><circle cx="1727" cy="715" r="15"/>
</g>
<g fill="#5E86C0"><circle cx="607" cy="395" r="6"/><circle cx="162" cy="705" r="6"/><circle cx="662" cy="940" r="7"/><circle cx="933" cy="1015" r="7"/><circle cx="1077" cy="906" r="6"/><circle cx="1729" cy="713" r="6"/></g>
<g fill="none" stroke="#1b1b1b" stroke-width="4">
<path d="M172,716 L215,745 M178,700 L222,722"/>
<path d="M668,925 L682,895 M680,950 L708,912"/>
<path d="M875,985 L918,1005 M895,955 L935,998"/>
<path d="M1062,845 L1068,892 M1095,825 L1092,898"/>
<path d="M1690,765 L1718,728 M1712,705 L1672,728"/>
<path d="M716,800 L724,810"/>
</g>
<!-- pacemaker -->
<path d="M1560,745 C1570,755 1572,765 1568,780" fill="none" stroke="#1b1b1b" stroke-width="5"/>
<path d="M1618,960 C1580,935 1535,905 1512,870 C1500,850 1515,842 1535,845 L1590,853 C1615,853 1625,830 1625,803 C1622,780 1595,760 1568,757" fill="none" stroke="#111" stroke-width="14"/>
<circle cx="1658" cy="1103" r="145" fill="#8E9292" stroke="#1b1b1b" stroke-width="6"/>
<path d="M1552,1180 A145,145 0 0 0 1790,1160 A160,160 0 0 1 1552,1180 Z" fill="#6F7373"/>
<path d="M1586,978 A145,145 0 0 1 1802,1090 Z" fill="#C9CCCB" stroke="#1b1b1b" stroke-width="4"/>
<path d="M1600,985 C1680,990 1750,1030 1790,1088 L1802,1090 L1586,978 Z" fill="#A7ABAA"/>
<path d="M1583,990 L1770,1085" fill="none" stroke="#fff" stroke-width="5"/>
</g>

<!-- clip device (G tile coords: H = (px/2, py/2+2183.6)) inside H group via nested transform -->
<g transform="translate(0 2183.6) scale(0.5)" stroke-linejoin="round">
<path d="M700,580 L740,530 L765,450 L775,380 Q790,345 810,347 Q835,350 840,390 L845,470 L860,550 L885,595 L830,625 L760,615 Z" fill="#7B736C" stroke="#555" stroke-width="3"/>
<path d="M385,432 L490,432 L700,580 C740,610 800,625 850,610 L905,580 L1140,440 L1215,438 Q1245,445 1240,465 L1230,490 L1100,600 L960,730 C925,775 905,810 895,850 L880,900 C870,940 830,975 790,975 L740,972 C710,960 695,935 690,920 L660,830 C650,790 640,760 630,730 C615,695 595,660 570,630 L470,530 L385,445 Z" fill="#FDFBEF" stroke="#666" stroke-width="4"/>
<path d="M1215,455 L1050,560 L920,680 C885,725 865,765 860,800 L850,930 C870,925 880,905 880,900 L895,850 C905,810 925,775 960,730 L1100,600 L1230,490 L1238,462 Z" fill="#F3E6D6" stroke="#777" stroke-width="3"/>
</g>

</g>
<clipPath id="hclip"><rect x="100" y="1880" width="1450" height="1260"/></clipPath>
<g clip-path="url(#hclip)"><g transform="translate(620 2400) scale(0.30912)">
<!-- ===== LOWER (K coords: src=(620,2400)+K/3.235) ===== -->
<g stroke-linejoin="round" stroke-linecap="round">
<!-- IVC -->
<path d="M185,900 L195,1180 C210,1198 240,1198 300,1196 L400,1190 C430,1185 442,1175 440,1150 L440,1000 L300,900 Z" fill="#A9C4E4" stroke="#1b1b1b" stroke-width="6"/>
<path d="M300,1060 C360,1040 420,1060 438,1100 L438,1170 C420,1190 350,1195 300,1192 Z" fill="#86A9DA"/>
<!-- ventricle outer band (cream) -->
<path d="M1290,380 C1400,500 1480,640 1520,780 C1535,900 1520,1050 1480,1180 C1460,1260 1400,1330 1250,1360 C1180,1365 1100,1358 1050,1350 C980,1340 900,1325 850,1310 C780,1290 700,1255 650,1230 C590,1200 540,1165 500,1130 C460,1100 420,1065 400,1040 C370,1010 350,985 335,960 L300,905 L560,540 Z" fill="#FBF8F1" stroke="#1b1b1b" stroke-width="6"/>
<!-- myocardium pale pink -->
<path d="M1262,415 C1360,520 1440,660 1475,790 C1488,900 1470,1040 1440,1160 C1420,1230 1370,1290 1240,1315 C1180,1318 1100,1312 1050,1305 C980,1295 910,1280 860,1265 C790,1245 730,1215 680,1190 C620,1160 570,1130 530,1100 C490,1070 455,1040 430,1010 C405,985 385,960 368,935 L345,905 L560,560 Z" fill="#F4D8D8" stroke="#1b1b1b" stroke-width="5"/>
<path d="M1440,1120 C1420,1230 1370,1290 1240,1300 C1100,1305 980,1285 860,1250 C980,1300 1100,1320 1240,1315 C1380,1290 1430,1220 1452,1120 Z" fill="#E3A3AD"/>
<!-- RA wall -->
<path d="M310,180 C260,205 150,265 100,300 C70,330 50,420 45,500 C45,560 60,640 80,700 C110,780 150,850 170,880 L190,930 C210,990 280,1030 320,1010 C345,995 345,960 335,940 L300,890 L590,560 C560,500 510,420 470,350 C420,285 360,225 310,180 Z" fill="#EBBBC4" stroke="#1b1b1b" stroke-width="6"/>
<path d="M195,905 C215,975 275,1012 315,998 C335,985 335,960 325,940 L290,890 L235,860 Z" fill="#DDB0C4"/>
<!-- RA chamber -->
<path d="M292,222 C250,245 170,290 130,320 C105,350 92,420 90,500 C92,560 105,640 125,690 C150,750 185,800 205,830 L250,870 L560,560 C540,520 500,450 452,372 C410,310 350,260 292,222 Z" fill="#A93B58" stroke="#1b1b1b" stroke-width="5"/>
<path d="M215,380 C260,330 340,300 420,330 C470,360 480,420 450,480 C420,540 340,600 280,640 C230,650 190,600 185,520 C185,460 195,410 215,380 Z" fill="#B9516B"/>
<path d="M250,290 C300,330 380,340 430,300 C400,270 340,235 300,225 Z" fill="#B9516B" opacity="0.8"/>
<!-- white tricuspid area -->
<path d="M180,790 C230,770 300,720 350,675 C400,625 450,595 515,572 L560,560 L640,700 L800,760 L805,795 L700,805 L600,835 L480,860 L250,868 L205,832 Z" fill="#FFFFFF"/>
<!-- light blue -->
<path d="M245,868 L480,860 L545,900 L500,930 L440,950 L395,925 L300,895 Z" fill="#DCEBF0" stroke="#1b1b1b" stroke-width="4"/>
<path d="M240,862 C320,850 420,845 470,830 C520,815 560,800 600,790" fill="none" stroke="#9A2E4D" stroke-width="5"/>
<path d="M240,850 C320,838 420,833 470,818" fill="none" stroke="#1b1b1b" stroke-width="3"/>
<!-- RV inflow dark -->
<path d="M520,572 C545,540 585,540 620,570 C670,610 730,680 760,735 C730,765 680,770 630,745 C580,720 545,690 528,640 Z" fill="#8E2B49" stroke="#1b1b1b" stroke-width="4"/>
<!-- LVOT dark magenta -->
<path d="M860,600 C920,590 980,610 1040,660 C1100,710 1150,770 1200,800 L1180,860 C1120,840 1060,780 1000,730 C950,690 900,660 850,650 Z" fill="#8E2B49"/>
<!-- RV cavity -->
<path d="M450,942 C480,915 540,905 600,920 C640,890 700,850 760,805 C800,830 860,890 910,960 C950,1010 1000,1070 1040,1120 L1062,1175 C1040,1190 1000,1185 950,1170 C900,1150 850,1140 800,1128 C740,1105 680,1075 620,1040 C560,1010 500,975 450,942 Z" fill="#9A2E4D" stroke="#1b1b1b" stroke-width="5"/>
<path d="M700,960 C740,940 800,930 850,960 C900,1000 940,1050 990,1100 C1010,1130 1040,1150 1055,1170 C1020,1180 980,1170 940,1150 C880,1130 820,1110 780,1080 C740,1050 700,1010 700,960 Z" fill="#DC8E9B"/>
<path d="M760,830 C800,850 840,900 870,950 C830,930 790,900 750,880 Z" fill="#DC8E9B"/>
<path d="M810,1000 C850,980 900,1020 920,1060 C890,1090 840,1080 800,1050 Z" fill="#9A2E4D"/>
<path d="M880,1090 C910,1080 950,1100 960,1130 C930,1140 900,1120 880,1090 Z" fill="#9A2E4D"/>
<g fill="none" stroke="#F1C3C8" stroke-width="5">
<path d="M740,1040 C780,1030 820,1060 840,1100"/>
<path d="M880,960 C900,1000 930,1030 920,1060"/>
<path d="M800,1100 C830,1090 860,1100 880,1120"/>
<path d="M760,900 C790,920 810,950 820,980"/>
</g>
<circle cx="662" cy="985" r="32" fill="#F7E4E4" stroke="#1b1b1b" stroke-width="4"/>
<path d="M560,900 C600,880 650,880 690,910 C660,930 600,935 560,900 Z" fill="#DC8E9B"/>
<!-- white patch in RV -->
<path d="M770,790 L830,815 L860,870 L820,850 L790,830 Z" fill="#fff"/>
<!-- LV cavity -->
<path d="M955,700 C990,700 1030,720 1060,760 C1090,740 1120,740 1160,780 C1200,790 1250,770 1290,790 C1310,740 1320,690 1330,640 L1345,700 L1370,790 L1335,845 L1385,940 C1390,1000 1380,1060 1360,1120 L1335,1188 C1300,1195 1260,1180 1240,1165 C1200,1130 1170,1080 1150,1020 C1130,960 1110,900 1080,840 C1050,790 1000,740 955,700 Z" fill="#DD8E9D" stroke="#1b1b1b" stroke-width="5"/>
<path d="M990,720 C1040,730 1090,770 1130,810 C1170,850 1200,900 1210,960 C1215,1010 1200,1050 1180,1060 C1150,1000 1130,920 1090,850 C1060,800 1020,760 990,720 Z" fill="#9A2E4D"/>
<path d="M1150,990 C1190,980 1230,1000 1250,1040 C1230,1070 1190,1060 1160,1040 Z" fill="#9A2E4D"/>
<path d="M1060,680 C1100,700 1150,740 1190,790 C1160,800 1120,770 1090,740 Z" fill="#9A2E4D"/>
<g fill="none" stroke="#F1C3C8" stroke-width="5">
<path d="M1070,700 C1090,740 1120,760 1110,800"/>
<path d="M1120,860 C1160,850 1180,880 1170,920"/>
<path d="M1180,900 C1210,890 1230,920 1220,950"/>
<path d="M1240,1040 C1270,1050 1300,1080 1310,1110"/>
<path d="M1130,940 C1150,960 1150,990 1130,1000"/>
</g>
<path d="M1230,800 L1290,795 L1330,850 L1380,945 L1355,1115 L1320,1010 C1300,930 1270,860 1230,800 Z" fill="#E7A7B2"/>
<path d="M1210,775 L1300,960 L1350,1100" fill="none" stroke="#1b1b1b" stroke-width="3"/>
<!-- mitral / aortic light blue -->
<path d="M1000,482 C1080,455 1170,435 1245,425 L1270,480 L1295,570 L1315,660 L1305,720 L1290,795 C1250,775 1220,740 1190,700 C1150,650 1100,600 1040,560 L1000,525 Z" fill="#DCEBF0" stroke="#1b1b1b" stroke-width="4"/>
<path d="M1245,425 C1275,460 1300,520 1320,590 C1335,650 1345,700 1345,705 L1315,665 C1300,600 1280,530 1255,480 Z" fill="#9A2E4D" stroke="#1b1b1b" stroke-width="3"/>
<g fill="#9A2E4D">
<path d="M1140,560 C1180,600 1220,650 1255,700 L1245,708 C1205,660 1170,610 1130,570 Z"/>
<path d="M1175,565 C1210,600 1245,640 1270,680 L1262,688 C1230,648 1200,610 1165,575 Z"/>
<path d="M1210,560 C1235,590 1260,620 1285,660 L1277,666 C1250,630 1228,600 1200,570 Z"/>
<path d="M1100,600 C1130,630 1160,670 1185,710 L1176,716 C1150,680 1120,640 1092,610 Z"/>
<path d="M1075,625 C1100,650 1125,690 1150,730 L1142,736 C1118,700 1095,665 1068,636 Z"/>
<path d="M1135,500 L1150,540 L1140,542 Z"/>
</g>
<path d="M1050,475 l12,6 M1080,468 l12,6 M1110,462 l12,6 M1150,455 l12,6" stroke="#7a4a5a" stroke-width="4" fill="none"/>
<!-- white strip between pulmonary root & mitral -->
<path d="M985,560 L1040,565 L1100,610 L1160,690 L1215,775 L1190,790 C1150,740 1100,690 1040,650 C1010,620 990,590 985,560 Z" fill="#fff"/>
<!-- LA -->
<path d="M770,260 C768,200 775,150 790,106 C805,75 825,58 847,53 L1060,46 L1113,46 L1127,60 C1150,66 1165,72 1173,80 C1190,95 1198,108 1204,125 C1225,150 1220,180 1172,232 C1190,260 1230,310 1262,352 L1282,392 L1245,425 C1170,435 1080,455 1000,482 C960,460 900,420 850,380 C810,345 780,300 770,260 Z" fill="#A93B58" stroke="#1b1b1b" stroke-width="6"/>
<path d="M840,200 C880,140 960,110 1040,130 C1020,200 1040,280 1100,330 C1060,390 960,400 890,350 C840,310 825,250 840,200 Z" fill="#B9516B"/>
<ellipse cx="1085" cy="200" rx="48" ry="78" transform="rotate(-18 1085 200)" fill="#8B2A49"/>
<path d="M1040,170 C1030,220 1045,270 1080,290" fill="none" stroke="#D98A9B" stroke-width="4"/>
<!-- LA rim (orange) -->
<path d="M753,324 C745,250 745,190 760,130 C775,60 800,10 840,-27 L1060,-7 C1110,5 1170,40 1205,95 C1215,115 1220,135 1220,153 L1204,125 C1198,108 1190,95 1173,80 C1165,72 1150,66 1127,60 L1113,46 L1060,46 L847,53 C825,58 805,75 790,106 C775,150 768,200 770,260 L772,300 Z" fill="#D9825D" stroke="#1b1b1b" stroke-width="5"/>
<path d="M785,80 C800,40 820,15 845,-5 L1050,12" fill="none" stroke="#fff" stroke-width="5"/>
<!-- pulmonary vein stub -->
<path d="M1218,125 C1235,112 1255,112 1270,125 C1285,150 1290,190 1282,230 L1185,262 L1172,232 C1205,200 1222,165 1218,125 Z" fill="#D9683F" stroke="#1b1b1b" stroke-width="5"/>
<path d="M1280,195 L1282,230 L1185,262 L1178,245 Z" fill="#D23A27"/>
<!-- pulmonary trunk root -->
<path d="M592,530 C595,480 640,420 690,395 C740,365 800,370 840,395 C880,420 920,450 960,480 L1000,500 L995,560 L940,572 L905,545 L865,560 L835,612 L800,642 C760,635 700,610 660,585 C630,570 605,550 592,530 Z" fill="#D4623B" stroke="#1b1b1b" stroke-width="6"/>
<path d="M598,528 C640,560 700,600 800,636 L832,608 L860,558 C820,540 780,545 750,560 C700,570 640,560 598,528 Z" fill="#D23A27"/>
<path d="M905,548 L940,572 L993,560 L996,510 C970,520 930,530 905,548 Z" fill="#D23A27"/>
<path d="M830,612 C850,600 890,610 900,640 C890,665 850,670 830,655 C815,640 818,620 830,612 Z" fill="#D23A27"/>
<path d="M700,405 C740,380 800,380 835,400" fill="none" stroke="#E89A78" stroke-width="6"/>
<!-- aorta/RA divider line -->
<path d="M310,180 C360,225 420,285 470,350 C510,420 560,500 592,548" fill="none" stroke="#1b1b1b" stroke-width="6"/>
<path d="M300,215 C350,255 405,310 452,372 C495,440 535,510 560,560" fill="none" stroke="#1b1b1b" stroke-width="4"/>
<!-- leads -->
<g fill="none">
<path d="M217,254 C210,340 220,430 260,500 C290,540 350,550 395,528 C430,505 455,470 468,428" stroke="#fff" stroke-width="24"/>
<path d="M278,227 C290,310 330,415 400,540 C460,650 560,780 700,900 C800,980 900,1045 1003,1088" stroke="#fff" stroke-width="22"/>
<path d="M266,-10 C250,80 237,150 231,180 L217,254" stroke="#555" stroke-width="14"/>
<path d="M306,-10 C294,80 282,140 278,170 L278,227" stroke="#555" stroke-width="14"/>
<path d="M217,254 C210,340 220,430 260,500 C290,540 350,550 395,528 C430,505 455,470 468,428" stroke="#111" stroke-width="15"/>
<path d="M278,227 C290,310 330,415 400,540 C460,650 560,780 700,900 C800,980 900,1045 1003,1088" stroke="#111" stroke-width="14"/>
</g>
<!-- tricuspid chordae hints -->
<g fill="none" stroke="#9A2E4D" stroke-width="5">
<path d="M500,780 L545,830"/><path d="M520,765 L580,830"/><path d="M610,740 L640,780"/>
</g>
<g fill="none" stroke="#1b1b1b" stroke-width="3">
<path d="M640,745 C690,760 740,755 790,735"/><path d="M650,770 C700,790 750,790 800,775"/>
<path d="M350,830 C380,815 400,812 420,815"/>
</g>
<!-- green circle + dashes -->
<circle cx="565" cy="795" r="105" fill="none" stroke="#8DC153" stroke-width="15"/>
<path d="M472,870 L-44,1444" fill="none" stroke="#8DC153" stroke-width="19" stroke-dasharray="62 56" stroke-linecap="butt"/>
</g>

</g></g>
</svg>
</body></html>
